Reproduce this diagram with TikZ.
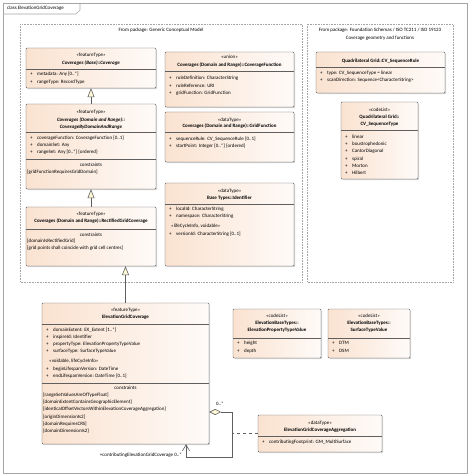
\documentclass[tikz,border=0pt]{standalone}
\usepackage{fontspec}
\setmainfont{Carlito}
\usepackage{tikz}
\usetikzlibrary{positioning,arrows.meta,shadows}
\definecolor{umlpeach}{RGB}{250,226,208}
\definecolor{umlline}{RGB}{95,95,95}
\definecolor{umltri}{RGB}{255,248,215}
\definecolor{framegrey}{RGB}{165,165,165}
\newcommand{\umlplus}{\makebox[7pt][l]{+}}
\tikzset{umlbox/.style={draw=umlline,rounded corners=1bp,left color=umlpeach,right color=umlpeach!15,
    drop shadow={shadow xshift=1.2bp,shadow yshift=-1.2bp,opacity=0.35},inner sep=0},
  sepline/.style={draw=umlline,line width=0.5bp},
  stereo/.style={inner sep=0,font=\fontsize{5}{6}\selectfont},
  cname/.style={inner sep=0,align=center,font=\fontsize{5}{7}\selectfont\bfseries},
  cnamei/.style={cname,font=\fontsize{5}{7}\selectfont\bfseries\itshape},
  attr/.style={inner sep=0,anchor=west,font=\fontsize{5}{6}\selectfont},
  pkg/.style={draw=framegrey,densely dotted,line width=0.6bp},
  framel/.style={draw=framegrey,line width=0.6bp},
  gen/.style={draw=umlline,line width=0.6bp,-{Triangle[fill=umltri,length=9bp,width=7bp]}},
  aggr/.style={draw=umlline,line width=0.6bp,{Diamond[fill=umltri,length=12bp,width=6bp]}-{Straight Barb[length=6bp,width=7bp]}},
  assocls/.style={draw=umlline,line width=0.6bp,dashed}}

\begin{document}
\begin{tikzpicture}[x=1bp,y=-1bp]
\useasboundingbox (0,0) rectangle (474,476);
\draw[framel] (3,3) rectangle (467,473);
\draw[framel] (3,14) -- (76,14) -- (80,10) -- (80,3);
\node[attr] (title) at (7,8.5) {class ElevationGridCoverage};

% packages
\draw[pkg] (20,24) rectangle (302,282);
\node[stereo] (pkg1) at (161,30) {From package: Generic Conceptual Model};
\draw[pkg] (307,24) rectangle (453,282);
\node[stereo] (pkg2) at (380,30) {From package: Foundation Schemas / ISO TC211 / ISO 19123};
\node[stereo] (pkg2b) at (380,38) {Coverage geometry and functions};

% Coverage
\node[umlbox,minimum width=130bp,minimum height=40bp] (cov) at (91,68) {};
\node[stereo] (cov-st) at (91,55) {«featureType»};
\node[cnamei] (cov-nm) at (91,63) {Coverages (Base)::Coverage};
\draw[sepline] (26,69) -- (156,69);
\foreach \t [count=\i] in {{metadata: Any [0..*]},{rangeType: RecordType}}
  \node[attr] (cov-a\i) at (30,66+8*\i) {\umlplus\t};

% CoverageByDomainAndRange
\node[umlbox,minimum width=130bp,minimum height=85bp] (cbdr) at (91,146.5) {};
\node[stereo] (cbdr-st) at (91,112) {«featureType»};
\node[cnamei] (cbdr-nm) at (91,123.5) {Coverages (Domain and Range)::\\CoverageByDomainAndRange};
\draw[sepline] (26,132) -- (156,132);
\foreach \t [count=\i] in {{coverageFunction: CoverageFunction [0..1]},{domainSet: Any},{rangeSet: Any [0..*] \{ordered\}}}
  \node[attr] (cbdr-a\i) at (30,131+7*\i) {\umlplus\t};
\draw[sepline] (26,159) -- (156,159);
\node[stereo] (cbdr-c) at (91,165) {constraints};
\node[attr] (cbdr-c1) at (27,172) {[gridFunctionRequiresGridDomain]};

% RectifiedGridCoverage
\node[umlbox,minimum width=130bp,minimum height=59bp] (rect) at (91,236.5) {};
\node[stereo] (rect-st) at (91,214) {«featureType»};
\node[cname] (rect-nm) at (91,221.5) {Coverages (Domain and Range)::RectifiedGridCoverage};
\draw[sepline] (26,229) -- (156,229);
\node[stereo] (rect-c) at (91,234.5) {constraints};
\foreach \t [count=\i] in {{[domainIsRectifiedGrid]},{[grid points shall coincide with grid cell centres]}}
  \node[attr] (rect-c\i) at (27,234.5+7*\i) {\t};

% CoverageFunction
\node[umlbox,minimum width=129bp,minimum height=55bp] (cfun) at (229.5,79.5) {};
\node[stereo] (cfun-st) at (229.5,57) {«union»};
\node[cname] (cfun-nm) at (229.5,65) {Coverages (Domain and Range)::CoverageFunction};
\draw[sepline] (165,71) -- (294,71);
\foreach \t [count=\i] in {{ruleDefinition: CharacterString},{ruleReference: URI},{gridFunction: GridFunction}}
  \node[attr] (cfun-a\i) at (169,70.5+7.5*\i) {\umlplus\t};

% GridFunction
\node[umlbox,minimum width=129bp,minimum height=50bp] (gfun) at (229.5,137) {};
\node[stereo] (gfun-st) at (229.5,120) {«dataType»};
\node[cname] (gfun-nm) at (229.5,126.5) {Coverages (Domain and Range)::GridFunction};
\draw[sepline] (165,132) -- (294,132);
\foreach \t [count=\i] in {{sequenceRule: CV\_SequenceRule [0..1]},{startPoint: Integer [0..*] \{ordered\}}}
  \node[attr] (gfun-a\i) at (169,132+7*\i) {\umlplus\t};

% Identifier
\node[umlbox,minimum width=129bp,minimum height=83bp] (ident) at (229.5,224.5) {};
\node[stereo] (ident-st) at (229.5,191) {«dataType»};
\node[cname] (ident-nm) at (229.5,198) {Base Types::Identifier};
\draw[sepline] (165,204) -- (294,204);
\foreach \t [count=\i] in {{localId: CharacterString},{namespace: CharacterString}}
  \node[attr] (ident-a\i) at (169,201.5+7.5*\i) {\umlplus\t};
\node[attr] (ident-st2) at (171,226) {«lifeCycleInfo, voidable»};
\node[attr] (ident-a3) at (169,234) {\umlplus versionId: CharacterString [0..1]};

% CV_SequenceRule
\node[umlbox,minimum width=129bp,minimum height=41bp] (seqr) at (380.5,72.5) {};
\node[cname] (seqr-nm) at (380.5,61) {Quadrilateral Grid::CV\_SequenceRule};
\draw[sepline] (316,67) -- (445,67);
\foreach \t [count=\i] in {{type: CV\_SequenceType = linear},{scanDirection: Sequence<CharacterString>}}
  \node[attr] (seqr-a\i) at (320,66+7*\i) {\umlplus\t};

% CV_SequenceType
\node[umlbox,minimum width=77bp,minimum height=77bp] (seqt) at (379.5,140.5) {};
\node[stereo] (seqt-st) at (379.5,110) {«codeList»};
\node[cname] (seqt-nm) at (379.5,120.5) {Quadrilateral Grid::\\CV\_SequenceType};
\draw[sepline] (341,130) -- (418,130);
\foreach \t [count=\i] in {linear,boustrophedonic,CantorDiagonal,spiral,Morton,Hilbert}
  \node[attr] (seqt-a\i) at (345,130+7.2*\i) {\umlplus\t};

% ElevationGridCoverage
\node[umlbox,minimum width=167bp,minimum height=141bp] (elev) at (125.5,373.5) {};
\node[stereo] (elev-st) at (125.5,310) {«featureType»};
\node[cname] (elev-nm) at (125.5,317) {ElevationGridCoverage};
\draw[sepline] (42,324) -- (209,324);
\foreach \t [count=\i] in {{domainExtent: EX\_Extent [1..*]},{inspireId: Identifier},{propertyType: ElevationPropertyTypeValue},{surfaceType: SurfaceTypeValue}}
  \node[attr] (elev-a\i) at (46,323+7*\i) {\umlplus\t};
\node[attr] (elev-st2) at (49,361) {«voidable, lifeCycleInfo»};
\foreach \t [count=\i] in {{beginLifespanVersion: DateTime},{endLifespanVersion: DateTime [0..1]}}
  \node[attr] (elev-b\i) at (46,361.5+7.2*\i) {\umlplus\t};
\draw[sepline] (42,383) -- (209,383);
\node[stereo] (elev-c) at (125.5,388) {constraints};
\foreach \t [count=\i] in {{[rangeSetValuesAreOfTypeFloat]},{[domainExtentContainsGeographicElement]},{[identicalOffsetVectorsWithinElevationCoverageAggregation]},{[originDimensionIs2]},{[domainRequiresCRS]},{[domainDimensionIs2]}}
  \node[attr] (elev-c\i) at (43,388+7.2*\i) {\t};

% codelists
\node[umlbox,minimum width=88bp,minimum height=49bp] (eptv) at (277,333.5) {};
\node[stereo] (eptv-st) at (277,316) {«codeList»};
\node[cname] (eptv-nm) at (277,327) {ElevationBaseTypes::\\ElevationPropertyTypeValue};
\draw[sepline] (233,338) -- (321,338);
\foreach \t [count=\i] in {height,depth}
  \node[attr] (eptv-a\i) at (237,335+8*\i) {\umlplus\t};

\node[umlbox,minimum width=82bp,minimum height=49bp] (stv) at (369,333.5) {};
\node[stereo] (stv-st) at (369,316) {«codeList»};
\node[cname] (stv-nm) at (369,327) {ElevationBaseTypes::\\SurfaceTypeValue};
\draw[sepline] (328,338) -- (410,338);
\foreach \t [count=\i] in {DTM,DSM}
  \node[attr] (stv-a\i) at (332,335+8*\i) {\umlplus\t};

% ElevationGridCoverageAggregation
\node[umlbox,minimum width=124bp,minimum height=37bp] (agr) at (320,433.5) {};
\node[stereo] (agr-st) at (320,423) {«dataType»};
\node[cname] (agr-nm) at (320,430) {ElevationGridCoverageAggregation};
\draw[sepline] (258,436) -- (382,436);
\node[attr] (agr-a1) at (262,442) {\umlplus contributingFootprint: GM\_MultiSurface};

% connectors
\draw[gen] (cbdr.north) -- (cov.south);
\draw[gen] (rect.north) -- (cbdr.south);
\draw[gen] (elev.north) -- (elev.north |- rect.south);
\coordinate (agg-y) at (0,412);
\coordinate (agg-r) at (232,457);
\coordinate (agg-l) at (186,457);
\draw[aggr] (elev.east |- agg-y) -| (agg-r) -- (agg-l) -- (agg-l |- elev.south);
\draw[assocls] (agr.west) -- (agr.west -| agg-r);
\node[stereo,anchor=south west] (agg-m1) at (216,406) {0..*};
\node[stereo,anchor=east] (agg-m2) at (182,455) {+contributingElevationGridCoverage 0..*};
\end{tikzpicture}
\end{document}
